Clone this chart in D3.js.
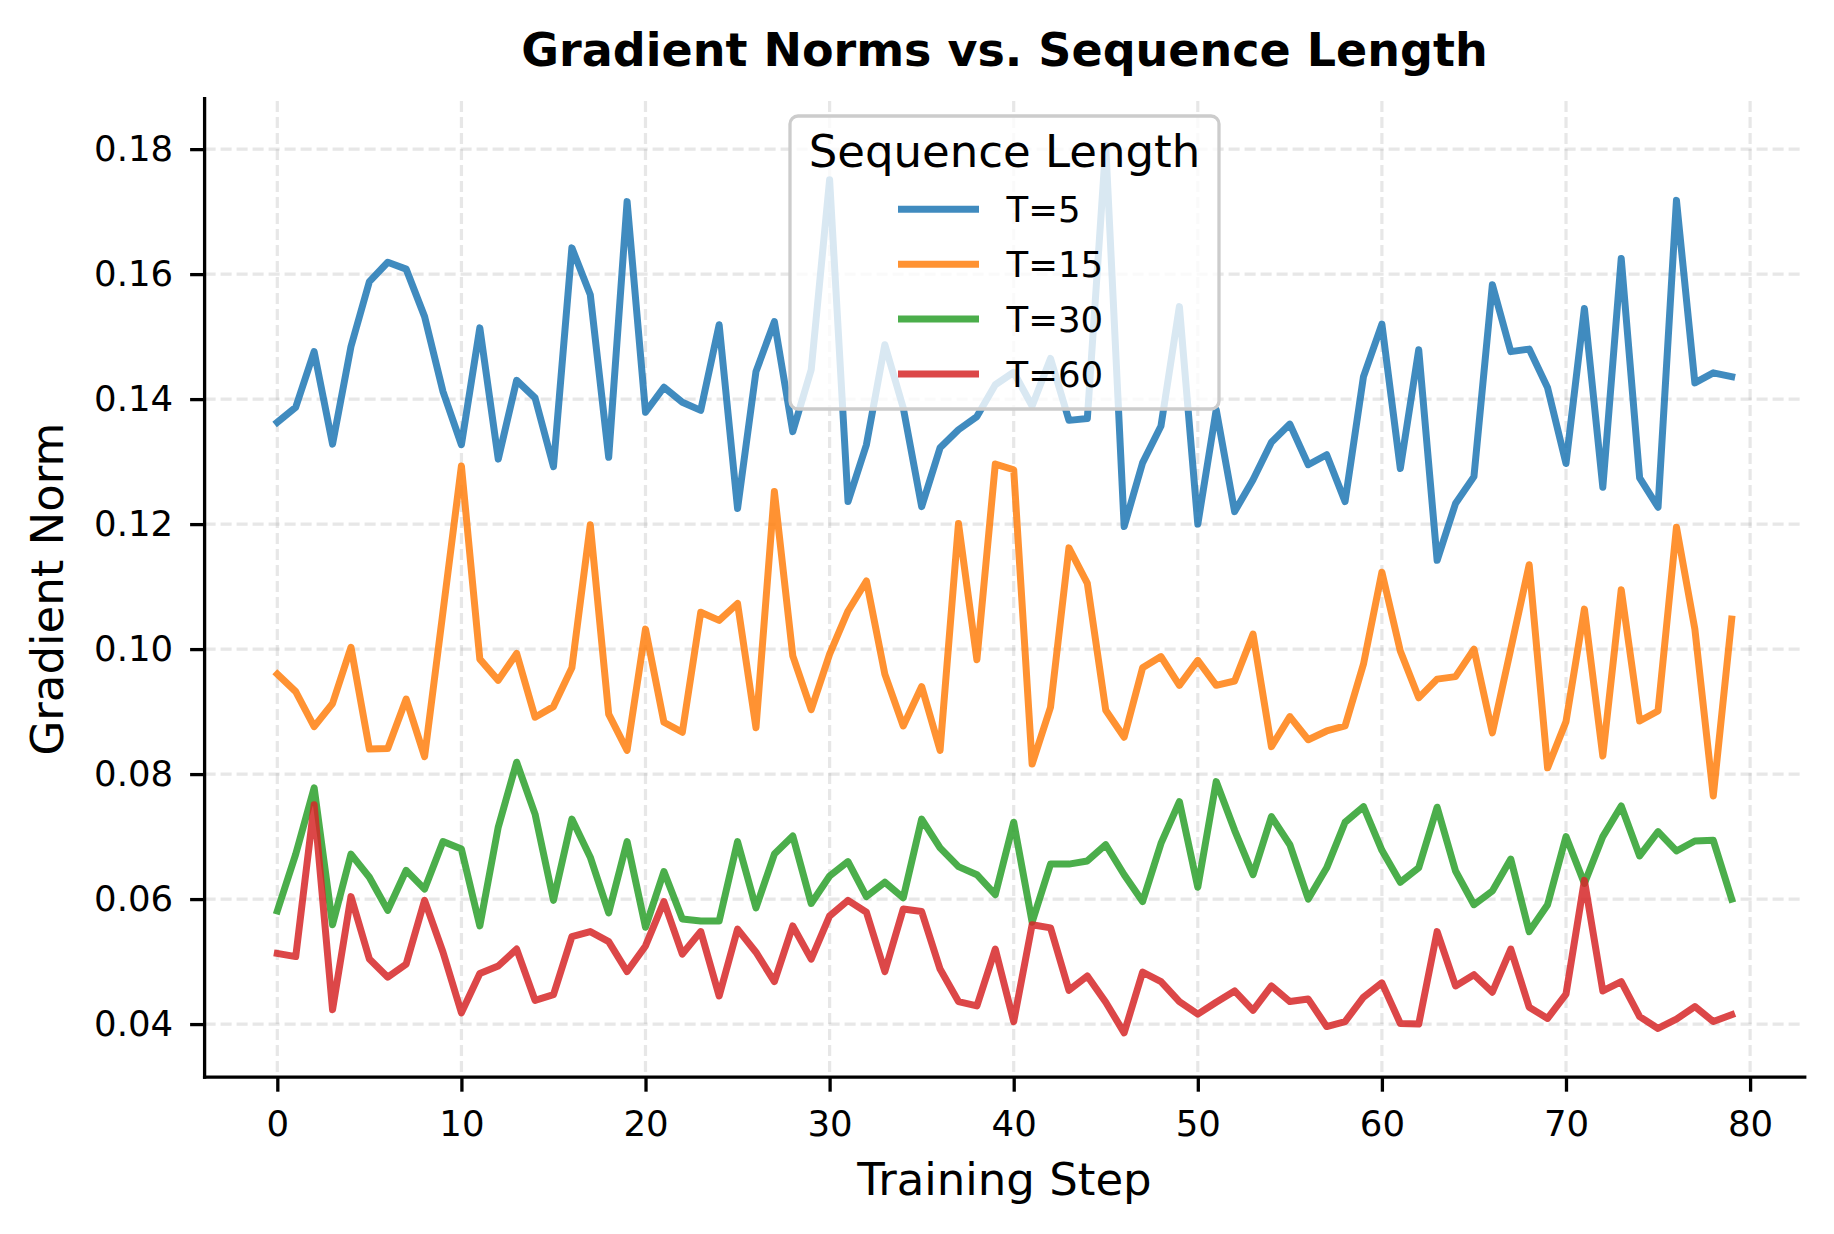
<!DOCTYPE html>
<html>
<head>
<meta charset="utf-8">
<script src="https://cdn.jsdelivr.net/npm/d3@7"></script>
<style>
  html, body { margin: 0; padding: 0; background: #ffffff; }
  svg { display: block; font-family: "DejaVu Sans", sans-serif; }
</style>
</head>
<body>
<svg id="chart" width="1834" height="1234"></svg>
<script>
// ---------------- data ----------------
const steps = d3.range(80);
const seriesNames = ["T=5", "T=15", "T=30", "T=60"];
const seriesColors = ["#1f77b4", "#ff7f0e", "#2ca02c", "#d62728"];

const t5 = [
  0.1363, 0.1387, 0.1476, 0.1328, 0.1484, 0.1588, 0.1619, 0.1608, 0.1532, 0.1412,
  0.1327, 0.1514, 0.1304, 0.1430, 0.1402, 0.1292, 0.1642, 0.1567, 0.1307, 0.1716,
  0.1379, 0.1419, 0.1395, 0.1382, 0.1519, 0.1225, 0.1444, 0.1524, 0.1348, 0.1447,
  0.1751, 0.1236, 0.1327, 0.1487, 0.1386, 0.1228, 0.1322, 0.1351, 0.1372, 0.1423,
  0.1443, 0.1389, 0.1465, 0.1366, 0.1369, 0.1806, 0.1196, 0.1298, 0.1357, 0.1548,
  0.1200, 0.1383, 0.1220, 0.1271, 0.1331, 0.1360, 0.1295, 0.1311, 0.1236, 0.1436,
  0.1520, 0.1289, 0.1479, 0.1142, 0.1233, 0.1276, 0.1583, 0.1476, 0.1480, 0.1418,
  0.1297, 0.1545, 0.1259, 0.1625, 0.1274, 0.1227, 0.1718, 0.1426, 0.1442, 0.1436
];
const t15 = [
  0.0960, 0.0932, 0.0876, 0.0913, 0.1003, 0.0840, 0.0841, 0.0920, 0.0828, 0.1060,
  0.1293, 0.0984, 0.0950, 0.0993, 0.0891, 0.0908, 0.0970, 0.1199, 0.0896, 0.0838,
  0.1032, 0.0883, 0.0867, 0.1059, 0.1046, 0.1073, 0.0874, 0.1252, 0.0989, 0.0903,
  0.0992, 0.1061, 0.1109, 0.0960, 0.0877, 0.0940, 0.0838, 0.1201, 0.0983, 0.1296,
  0.1287, 0.0816, 0.0907, 0.1162, 0.1105, 0.0902, 0.0859, 0.0970, 0.0988, 0.0942,
  0.0982, 0.0942, 0.0949, 0.1024, 0.0844, 0.0892, 0.0855, 0.0869, 0.0877, 0.0976,
  0.1123, 0.0997, 0.0922, 0.0952, 0.0956, 0.1000, 0.0866, 0.1000, 0.1135, 0.0810,
  0.0884, 0.1064, 0.0829, 0.1095, 0.0885, 0.0901, 0.1195, 0.1032, 0.0765, 0.1048
];
const t30 = [
  0.0581, 0.0672, 0.0778, 0.0559, 0.0672, 0.0635, 0.0582, 0.0646, 0.0616, 0.0692,
  0.0680, 0.0557, 0.0715, 0.0819, 0.0736, 0.0598, 0.0728, 0.0667, 0.0578, 0.0692,
  0.0555, 0.0644, 0.0568, 0.0565, 0.0565, 0.0692, 0.0586, 0.0672, 0.0701, 0.0593,
  0.0637, 0.0660, 0.0604, 0.0627, 0.0602, 0.0728, 0.0682, 0.0652, 0.0639, 0.0607,
  0.0723, 0.0563, 0.0656, 0.0656, 0.0661, 0.0687, 0.0639, 0.0596, 0.0689, 0.0756,
  0.0619, 0.0788, 0.0710, 0.0639, 0.0732, 0.0687, 0.0600, 0.0650, 0.0723, 0.0748,
  0.0678, 0.0627, 0.0650, 0.0747, 0.0645, 0.0591, 0.0613, 0.0664, 0.0548, 0.0591,
  0.0700, 0.0625, 0.0700, 0.0749, 0.0669, 0.0708, 0.0677, 0.0693, 0.0694, 0.0600
];
const t60 = [
  0.0513, 0.0508, 0.0751, 0.0423, 0.0604, 0.0504, 0.0475, 0.0496, 0.0598, 0.0515,
  0.0418, 0.0481, 0.0493, 0.0520, 0.0438, 0.0447, 0.0540, 0.0548, 0.0532, 0.0484,
  0.0525, 0.0596, 0.0512, 0.0548, 0.0445, 0.0552, 0.0515, 0.0468, 0.0557, 0.0504,
  0.0573, 0.0598, 0.0579, 0.0484, 0.0584, 0.0580, 0.0488, 0.0436, 0.0429, 0.0520,
  0.0404, 0.0559, 0.0554, 0.0454, 0.0477, 0.0435, 0.0386, 0.0483, 0.0468, 0.0436,
  0.0416, 0.0435, 0.0453, 0.0422, 0.0461, 0.0436, 0.0440, 0.0396, 0.0404, 0.0443,
  0.0466, 0.0401, 0.0400, 0.0548, 0.0461, 0.0479, 0.0451, 0.0520, 0.0427, 0.0409,
  0.0448, 0.0630, 0.0453, 0.0468, 0.0412, 0.0393, 0.0408, 0.0428, 0.0404, 0.0415
];
const seriesValues = [t5, t15, t30, t60];

const xTicks = [0, 10, 20, 30, 40, 50, 60, 70, 80];
const yTicks = [0.04, 0.06, 0.08, 0.10, 0.12, 0.14, 0.16, 0.18];

const titleText = "Gradient Norms vs. Sequence Length";
const xLabelText = "Training Step";
const yLabelText = "Gradient Norm";
const legendTitleText = "Sequence Length";

// ---------------- layout ----------------
const plot = { left: 204.6, right: 1804.4, top: 101, bottom: 1077.2 };
const svg = d3.select("#chart");
svg.append("rect").attr("width", 1834).attr("height", 1234).attr("fill", "#ffffff");

// matplotlib-like 5% margins
const xMin = d3.min(steps), xMax = d3.max(steps);
const xPad = (xMax - xMin) * 0.05;
const allVals = seriesValues.flat();
const yMinD = d3.min(allVals), yMaxD = d3.max(allVals);
const yPad = (yMaxD - yMinD) * 0.05;

const x = d3.scaleLinear().domain([xMin - xPad, xMax + xPad]).range([plot.left, plot.right]);
const y = d3.scaleLinear().domain([yMinD - yPad, yMaxD + yPad]).range([plot.bottom, plot.top]);

// ---------------- grid ----------------
const grid = svg.append("g").attr("class", "grid");
grid.selectAll("line.gx").data(xTicks).join("line")
  .attr("x1", d => x(d)).attr("x2", d => x(d))
  .attr("y1", plot.top).attr("y2", plot.bottom)
  .attr("stroke", "#b0b0b0").attr("stroke-opacity", 0.3)
  .attr("stroke-width", 3.2).attr("stroke-dasharray", "11,5");
grid.selectAll("line.gy").data(yTicks).join("line")
  .attr("x1", plot.left).attr("x2", plot.right)
  .attr("y1", d => y(d)).attr("y2", d => y(d))
  .attr("stroke", "#b0b0b0").attr("stroke-opacity", 0.3)
  .attr("stroke-width", 3.2).attr("stroke-dasharray", "11,5");

// ---------------- lines ----------------
const line = d3.line().x((d, i) => x(steps[i])).y(d => y(d));
const linesG = svg.append("g");
seriesValues.forEach((vals, k) => {
  linesG.append("path")
    .datum(vals)
    .attr("d", line)
    .attr("fill", "none")
    .attr("stroke", seriesColors[k])
    .attr("stroke-opacity", 0.85)
    .attr("stroke-width", 7)
    .attr("stroke-linejoin", "round")
    .attr("stroke-linecap", "square");
});

// ---------------- axes ----------------
const xAxis = d3.axisBottom(x).tickValues(xTicks).tickFormat(d3.format("d"))
  .tickSize(14.5).tickPadding(19).tickSizeOuter(0);
const yAxis = d3.axisLeft(y).tickValues(yTicks).tickFormat(d3.format(".2f"))
  .tickSize(14.5).tickPadding(17).tickSizeOuter(0);

const gx = svg.append("g").attr("transform", `translate(0,${plot.bottom})`).call(xAxis);
const gy = svg.append("g").attr("transform", `translate(${plot.left},0)`).call(yAxis);
[gx, gy].forEach(g => {
  g.select(".domain").remove();
  g.selectAll(".tick line").attr("stroke", "#000").attr("stroke-width", 3.3);
  g.selectAll(".tick text").attr("fill", "#000")
    .style("font-family", "'DejaVu Sans', sans-serif").style("font-size", "35.5px");
});
// spines (left & bottom only)
svg.append("line").attr("x1", plot.left).attr("x2", plot.left)
  .attr("y1", plot.top - 4).attr("y2", plot.bottom + 1.65)
  .attr("stroke", "#000").attr("stroke-width", 3.3);
svg.append("line").attr("x1", plot.left - 1.65).attr("x2", plot.right + 2)
  .attr("y1", plot.bottom).attr("y2", plot.bottom)
  .attr("stroke", "#000").attr("stroke-width", 3.3);

// ---------------- labels ----------------
const cx = (plot.left + plot.right) / 2;
svg.append("text").attr("x", cx).attr("y", 65.5)
  .attr("text-anchor", "middle").style("font-size", "46px").style("font-weight", "bold")
  .text(titleText);
svg.append("text").attr("x", cx).attr("y", 1195)
  .attr("text-anchor", "middle").style("font-size", "45px")
  .text(xLabelText);
svg.append("text")
  .attr("transform", `translate(63,${(plot.top + plot.bottom) / 2}) rotate(-90)`)
  .attr("text-anchor", "middle").style("font-size", "45px")
  .text(yLabelText);

// ---------------- legend ----------------
const leg = { x0: 790, y0: 116, x1: 1219, y1: 409 };
const lg = svg.append("g");
lg.append("rect")
  .attr("x", leg.x0).attr("y", leg.y0)
  .attr("width", leg.x1 - leg.x0).attr("height", leg.y1 - leg.y0)
  .attr("rx", 8).attr("ry", 8)
  .attr("fill", "#ffffff").attr("fill-opacity", 0.8)
  .attr("stroke", "#cccccc").attr("stroke-width", 3.3);
lg.append("text").attr("x", (leg.x0 + leg.x1) / 2).attr("y", 166.7)
  .attr("text-anchor", "middle").style("font-size", "45px").text(legendTitleText);
const entryY = d3.scalePoint().domain(seriesNames).range([209.3, 374]);
seriesNames.forEach((name, k) => {
  const yy = entryY(name);
  lg.append("line").attr("x1", 898).attr("x2", 979).attr("y1", yy).attr("y2", yy)
    .attr("stroke", seriesColors[k]).attr("stroke-opacity", 0.85)
    .attr("stroke-width", 7).attr("stroke-linecap", "butt");
  lg.append("text").attr("x", 1006.5).attr("y", yy + 13)
    .style("font-size", "35.5px").text(name);
});
</script>
</body>
</html>
